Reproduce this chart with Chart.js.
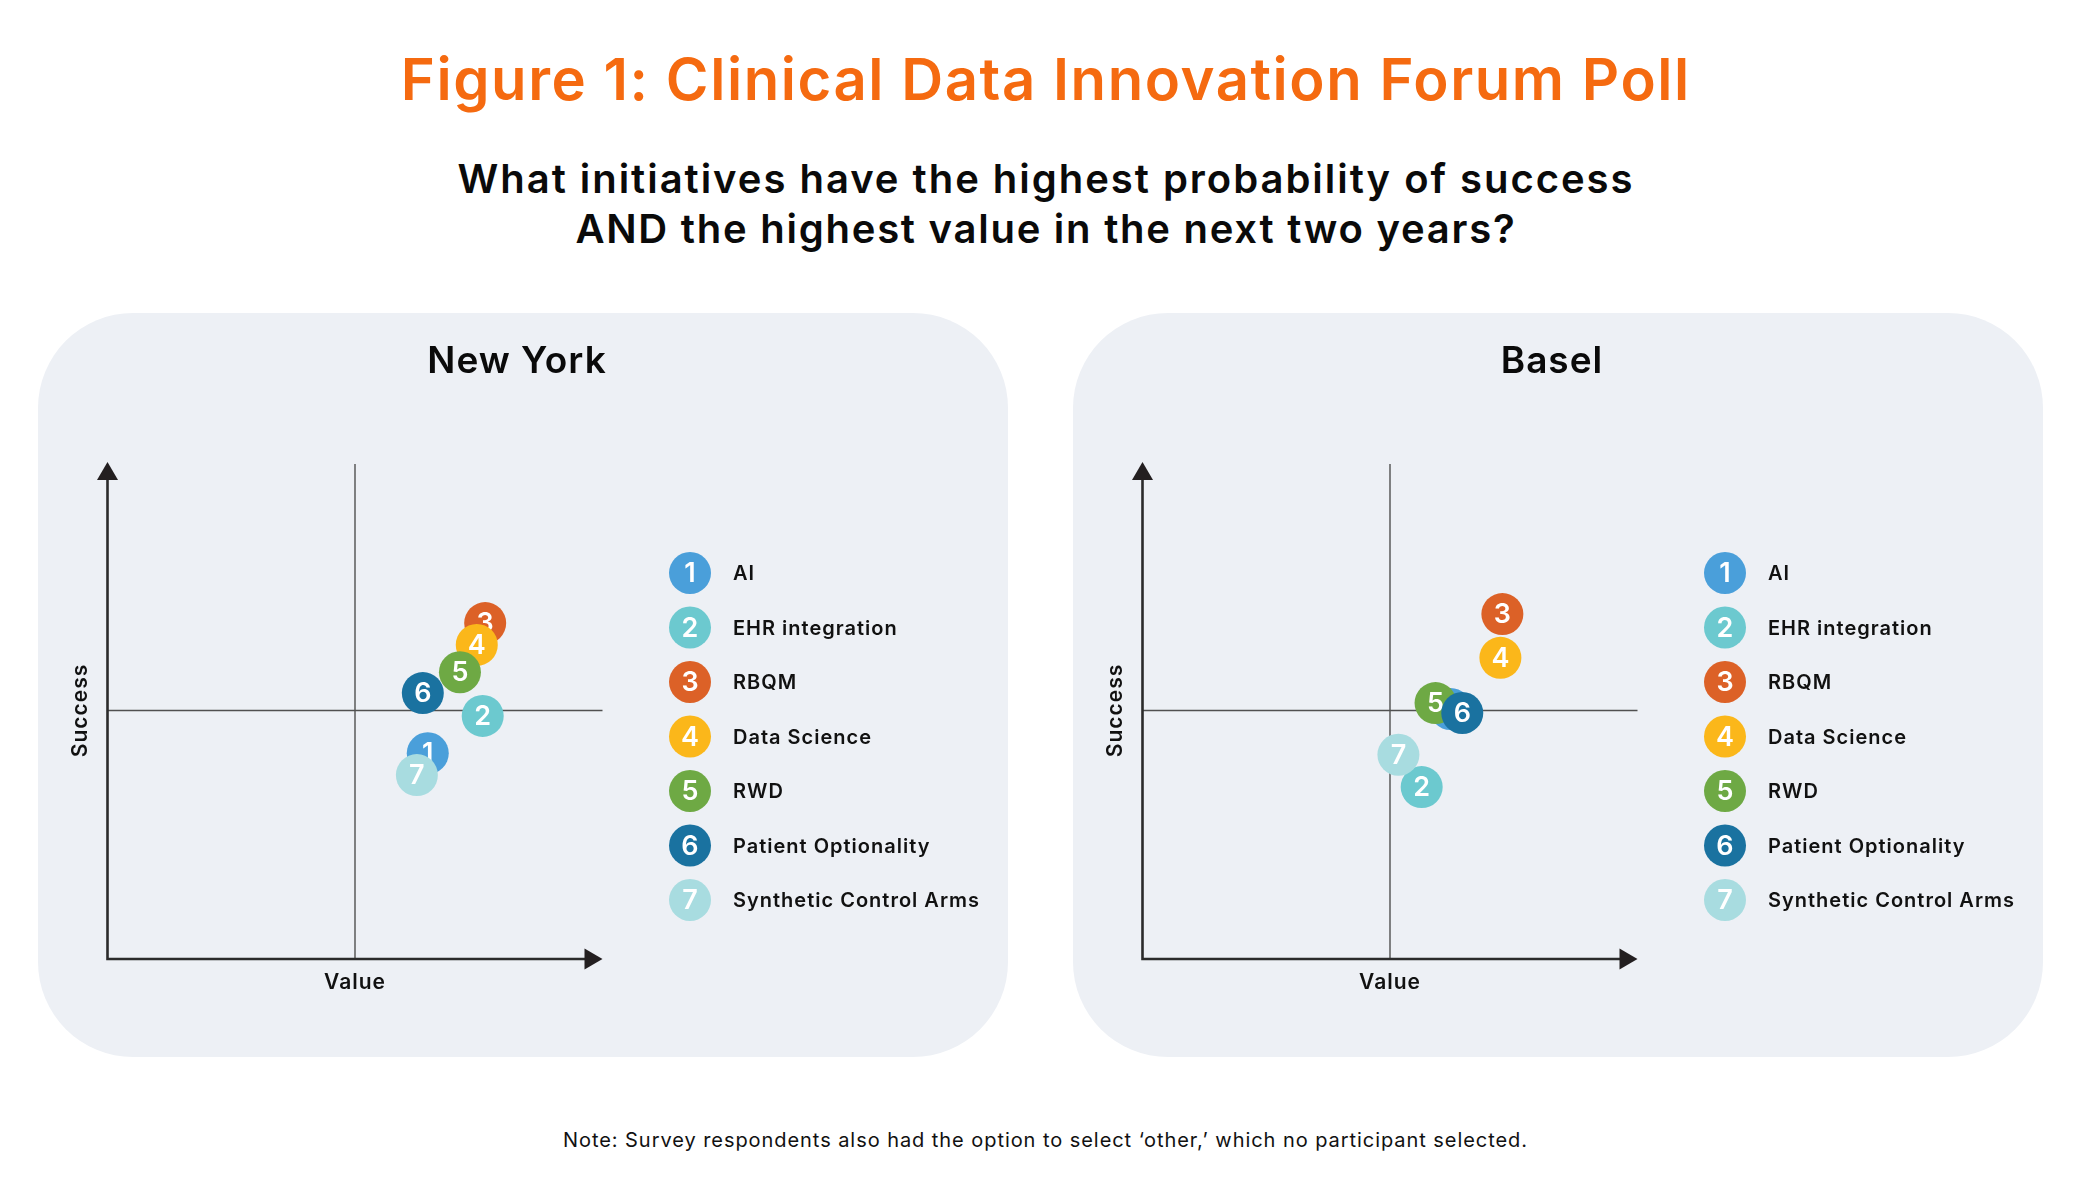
<!DOCTYPE html>
<html>
<head>
<meta charset="utf-8">
<title>Clinical Data Innovation Forum Poll</title>
<script src="https://cdn.jsdelivr.net/npm/chart.js@4.4.1/dist/chart.umd.min.js"></script>
<style>
  html, body { margin: 0; padding: 0; background: #ffffff; }
  body { width: 2084px; height: 1200px; position: relative; overflow: hidden; font-family: "Inter", "Noto Sans", sans-serif; }
  .txt { position: absolute; left: 0; width: 2090px; text-align: center; white-space: nowrap; line-height: 1; }
  #title { top: 50px; font-size: 58px; font-weight: 600; color: #f56a10; }
  #sub1 { top: 159px; font-size: 40px; font-weight: 600; color: #0a0a0a; }
  #sub2 { top: 209px; font-size: 40px; font-weight: 600; color: #0a0a0a; }
  #note { top: 1130px; font-size: 20px; font-weight: 400; color: #111111; }
  .panel { position: absolute; top: 313px; width: 970px; height: 744px; border-radius: 95px; background: #edf0f5; }
  .panel canvas { position: absolute; left: 0; top: 0; }
</style>
</head>
<body>
<div class="txt" id="title">Figure 1: Clinical Data Innovation Forum Poll</div>
<div class="txt" id="sub1">What initiatives have the highest probability of success</div>
<div class="txt" id="sub2">AND the highest value in the next two years?</div>

<div class="panel" style="left:38px"><canvas id="nyChart" width="970" height="744"></canvas></div>
<div class="panel" style="left:1073px"><canvas id="baselChart" width="970" height="744"></canvas></div>

<div class="txt" id="note">Note: Survey respondents also had the option to select ‘other,’ which no participant selected.</div>

<script>
// initiatives polled (legend order = bubble number)
const initiatives = ["AI", "EHR integration", "RBQM", "Data Science", "RWD", "Patient Optionality", "Synthetic Control Arms"];
const bubbleColors = ["#4a9fda", "#6cc9cf", "#dc6127", "#fbb71a", "#6ea944", "#1a72a0", "#a8dce0"];

// New York answers (0-10 scale, midpoint 5)
const newYorkValue = [6.47, 7.58, 7.63, 7.46, 7.12, 6.37, 6.25];
const newYorkSuccess = [4.14, 4.89, 6.76, 6.32, 5.77, 5.35, 3.70];

// Basel answers
const baselValue = [6.22, 5.64, 7.27, 7.23, 5.92, 6.46, 5.17];
const baselSuccess = [5.03, 3.46, 6.94, 6.06, 5.15, 4.95, 4.11];

const axisMin = 0;
const axisMax = 10;
const axisMid = 5;

const FONT = '"Inter", "Noto Sans", sans-serif';

// Inter runs a bit narrower than the original typeface, so stretch headings to the widths in the figure
function fitText(id, target) {
  const el = document.getElementById(id);
  const cs = getComputedStyle(el);
  const c = document.createElement("canvas").getContext("2d");
  c.font = cs.fontWeight + " " + cs.fontSize + " " + cs.fontFamily;
  const w = c.measureText(el.textContent).width;
  const sp = (target - w) / el.textContent.length;
  el.style.letterSpacing = sp + "px";
  el.style.textIndent = sp + "px";
}
fitText("title", 1290);
fitText("sub1", 1177);
fitText("sub2", 941);
fitText("note", 965);

const quadrantPlugin = {
  id: "quadrant",
  beforeDatasetsDraw(chart, args, opts) {
    const { ctx, chartArea, scales } = chart;
    const { left, right, top, bottom } = chartArea;
    const midX = scales.x.getPixelForValue(axisMid);
    const midY = scales.y.getPixelForValue(axisMid);
    ctx.save();

    // panel title
    ctx.fillStyle = "#0a0a0a";
    ctx.font = "600 37px " + FONT;
    ctx.letterSpacing = "1px";
    ctx.textAlign = "center";
    ctx.textBaseline = "middle";
    ctx.fillText(opts.title, chart.width / 2 - 6, 49);

    // quadrant dividers
    ctx.strokeStyle = "#505050";
    ctx.lineWidth = 1.4;
    ctx.beginPath();
    ctx.moveTo(midX, top + 2);
    ctx.lineTo(midX, bottom);
    ctx.moveTo(left, midY);
    ctx.lineTo(right, midY);
    ctx.stroke();

    // axes with arrow heads
    ctx.strokeStyle = "#2b2b2b";
    ctx.fillStyle = "#231f20";
    ctx.lineWidth = 2.6;
    ctx.beginPath();
    ctx.moveTo(left, top + 16);
    ctx.lineTo(left, bottom);
    ctx.lineTo(right - 16, bottom);
    ctx.stroke();
    ctx.beginPath();
    ctx.moveTo(left, top);
    ctx.lineTo(left - 10.5, top + 18);
    ctx.lineTo(left + 10.5, top + 18);
    ctx.closePath();
    ctx.fill();
    ctx.beginPath();
    ctx.moveTo(right, bottom);
    ctx.lineTo(right - 18, bottom - 10.5);
    ctx.lineTo(right - 18, bottom + 10.5);
    ctx.closePath();
    ctx.fill();

    // axis titles
    ctx.fillStyle = "#111111";
    ctx.font = "600 21px " + FONT;
    ctx.letterSpacing = "1px";
    ctx.fillText("Value", (left + right) / 2, bottom + 24);
    ctx.translate(left - 27, (top + bottom) / 2);
    ctx.rotate(-Math.PI / 2);
    ctx.fillText("Success", 0, 0);
    ctx.restore();
  },
  afterDatasetDraw(chart, args) {
    // number on each bubble, drawn right after its own bubble so later bubbles cover it
    const pt = args.meta.data[0];
    if (!pt) return;
    const { ctx } = chart;
    ctx.save();
    ctx.fillStyle = "#ffffff";
    ctx.font = "600 27px " + FONT;
    ctx.textAlign = "center";
    ctx.textBaseline = "middle";
    ctx.fillText(String(args.index + 1), pt.x, pt.y + 1);
    ctx.restore();
  },
  afterDraw(chart) {
    // legend
    const { ctx } = chart;
    const cx = 652;
    const y0 = 260;
    const step = 54.5;
    ctx.save();
    ctx.textBaseline = "middle";
    initiatives.forEach((name, i) => {
      const cy = y0 + i * step;
      ctx.fillStyle = bubbleColors[i];
      ctx.beginPath();
      ctx.arc(cx, cy, 21, 0, Math.PI * 2);
      ctx.fill();
      ctx.fillStyle = "#ffffff";
      ctx.font = "600 27px " + FONT;
      ctx.letterSpacing = "0px";
      ctx.textAlign = "center";
      ctx.fillText(String(i + 1), cx, cy + 1);
      ctx.fillStyle = "#111111";
      ctx.font = "600 20px " + FONT;
      ctx.letterSpacing = "1px";
      ctx.textAlign = "left";
      ctx.fillText(name, cx + 43, cy + 1);
    });
    ctx.restore();
  }
};

function makePanel(canvasId, title, values, success) {
  const datasets = initiatives.map((name, i) => ({
    label: name,
    data: [{ x: values[i], y: success[i] }],
    backgroundColor: bubbleColors[i],
    borderWidth: 0,
    pointRadius: 21,
    pointHoverRadius: 21,
    clip: false,
    order: initiatives.length - i
  }));

  return new Chart(document.getElementById(canvasId), {
    type: "scatter",
    data: { datasets },
    options: {
      responsive: false,
      animation: false,
      events: [],
      layout: { padding: { left: 69.5, right: 405.5, top: 149, bottom: 98 } },
      scales: {
        x: { min: axisMin, max: axisMax, display: false },
        y: { min: axisMin, max: axisMax, display: false }
      },
      plugins: {
        legend: { display: false },
        tooltip: { enabled: false },
        quadrant: { title: title }
      }
    },
    plugins: [quadrantPlugin]
  });
}

makePanel("nyChart", "New York", newYorkValue, newYorkSuccess);
makePanel("baselChart", "Basel", baselValue, baselSuccess);
</script>
</body>
</html>
